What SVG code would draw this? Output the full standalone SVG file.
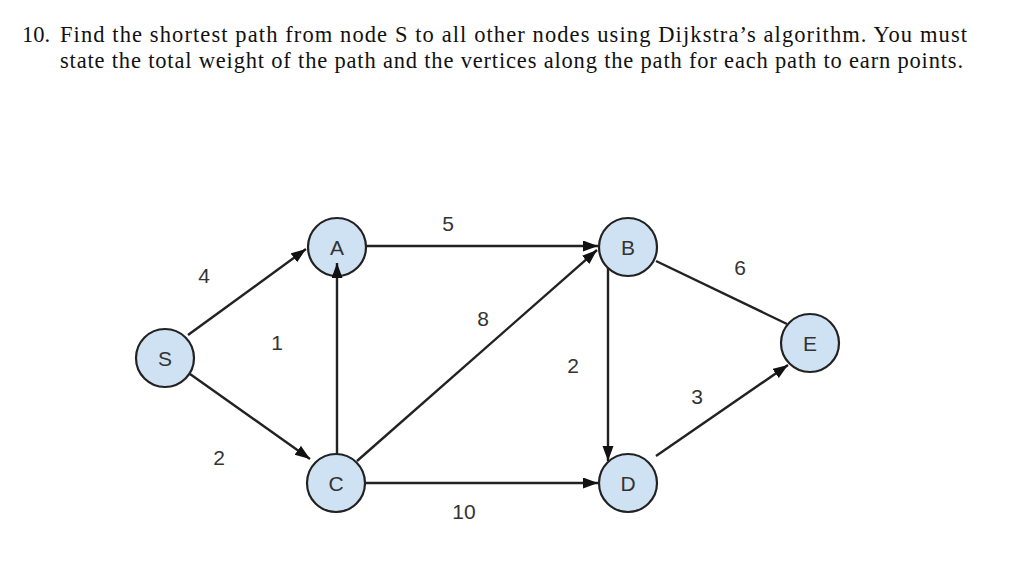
<svg xmlns="http://www.w3.org/2000/svg" width="1021" height="574" viewBox="0 0 1021 574">
<style>
.title{font-family:"Liberation Serif","DejaVu Serif",serif;font-size:22.5px;fill:#111}
.node circle{fill:#cfe2f3;stroke:#222;stroke-width:2.2}
.node text{font-family:"Liberation Sans",Arial,sans-serif;font-size:21px;fill:#333;text-anchor:middle}
.edge{stroke:#222;stroke-width:2.4;fill:none}
.lbl{font-family:"Liberation Sans",Arial,sans-serif;font-size:21px;fill:#333;text-anchor:middle}
</style>
<defs>
<marker id="arr" markerUnits="userSpaceOnUse" markerWidth="17" markerHeight="13" refX="15" refY="5.5" orient="auto">
<path d="M0,0 L15,5.5 L0,11 z" fill="#111"/>
</marker>
</defs>
<rect width="1021" height="574" fill="#fff"/>
<text class="title" x="22" y="42">10.</text>
<text class="title" x="60" y="42" textLength="907" lengthAdjust="spacing">Find the shortest path from node S to all other nodes using Dijkstra’s algorithm. You must</text>
<text class="title" x="60" y="68" textLength="903" lengthAdjust="spacing">state the total weight of the path and the vertices along the path for each path to earn points.</text>
<g id="node-S" class="node"><circle cx="165" cy="358" r="29"/><text x="165" y="365.5">S</text></g>
<g id="node-A" class="node"><circle cx="337" cy="247" r="29"/><text x="337" y="254.5">A</text></g>
<g id="node-B" class="node"><circle cx="628" cy="247" r="29"/><text x="628" y="254.5">B</text></g>
<g id="node-C" class="node"><circle cx="336" cy="483" r="29"/><text x="336" y="490.5">C</text></g>
<g id="node-D" class="node"><circle cx="628" cy="483" r="29"/><text x="628" y="490.5">D</text></g>
<g id="node-E" class="node"><circle cx="810" cy="343" r="29"/><text x="810" y="350.5">E</text></g>
<g id="connectors">
<line class="edge" x1="188" y1="335" x2="306" y2="249" marker-end="url(#arr)"/>
<line class="edge" x1="190" y1="374" x2="310" y2="459" marker-end="url(#arr)"/>
<line class="edge" x1="337" y1="454" x2="337" y2="263" marker-end="url(#arr)"/>
<line class="edge" x1="366" y1="246" x2="598" y2="246" marker-end="url(#arr)"/>
<line class="edge" x1="357" y1="461" x2="597" y2="250" marker-end="url(#arr)"/>
<line class="edge" x1="608" y1="268" x2="608" y2="461" marker-end="url(#arr)"/>
<line class="edge" x1="365" y1="483" x2="598" y2="483" marker-end="url(#arr)"/>
<line class="edge" x1="656" y1="456" x2="788" y2="365" marker-end="url(#arr)"/>
<line class="edge" x1="656" y1="261" x2="787" y2="324"/>
</g>
<g id="labels">
<text class="lbl" x="204" y="282.5">4</text>
<text class="lbl" x="277" y="349.5">1</text>
<text class="lbl" x="448" y="230.5">5</text>
<text class="lbl" x="483" y="325.5">8</text>
<text class="lbl" x="573" y="372.5">2</text>
<text class="lbl" x="219" y="464.5">2</text>
<text class="lbl" x="740" y="274.5">6</text>
<text class="lbl" x="697" y="403.5">3</text>
<text class="lbl" x="464" y="518.5">10</text>
</g>
</svg>
